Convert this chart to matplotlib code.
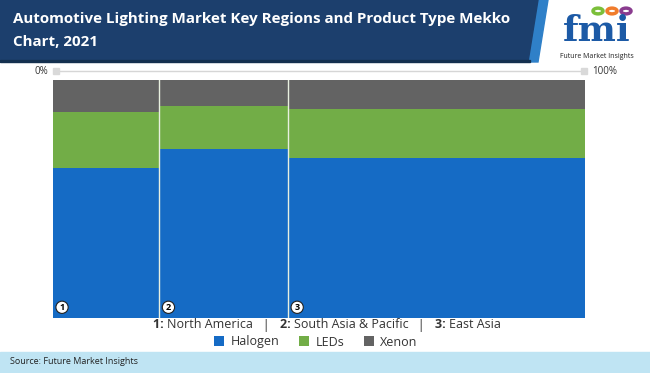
import numpy as np
import matplotlib.pyplot as plt
from matplotlib.patches import Polygon, Rectangle, Circle

regions = ['North America', 'South Asia & Pacific', 'East Asia']
region_share = [20.0, 24.2, 55.8]          # column widths, % of market
products = ['Halogen', 'LEDs', 'Xenon']
halogen = [63.1, 70.8, 67.4]
leds = [23.5, 18.1, 20.3]
xenon = [13.4, 11.1, 12.3]
colors = ['#156bc5', '#72ad47', '#636363']

plt.rcParams['font.family'] = ['Open Sans', 'DejaVu Sans']

W, H = 650, 373
fig = plt.figure(figsize=(W / 100, H / 100), dpi=100)

def fx(px):
    return px / W

def fy(py):
    return 1 - py / H

# header banner
fig.patches.append(Polygon([(fx(0), fy(0)), (fx(548), fy(0)), (fx(538), fy(62)), (fx(0), fy(62))],
                           closed=True, transform=fig.transFigure, color='#2f80c8', zorder=0))
fig.patches.append(Polygon([(fx(0), fy(0)), (fx(538), fy(0)), (fx(528), fy(62)), (fx(0), fy(62))],
                           closed=True, transform=fig.transFigure, color='#1c3f6d', zorder=1))
fig.patches.append(Rectangle((fx(0), fy(62)), fx(530), 2 / H, transform=fig.transFigure,
                             color='#14304f', zorder=2))
fig.text(fx(13), fy(19), 'Automotive Lighting Market Key Regions and Product Type Mekko',
         color='white', fontsize=10.9, fontweight='bold', va='center', ha='left')
fig.text(fx(13), fy(42), 'Chart, 2021', color='white', fontsize=10.9, fontweight='bold',
         va='center', ha='left')

# logo
fig.text(fx(597), fy(31), 'fmi', color='#1c5aa6', fontsize=26, fontweight='bold',
         ha='center', va='center', family=['DejaVu Serif'])
fig.text(fx(597), fy(56), 'Future Market Insights', color='#222222', fontsize=5,
         ha='center', va='center')
for cx, c in zip([598, 612, 626], ['#7bbf3a', '#f07c2c', '#8a3c8f']):
    fig.patches.append(Circle((fx(cx), fy(11)), 5 / W, transform=fig.transFigure,
                              facecolor='white', edgecolor=c, lw=2.5, zorder=3))

# footer
fig.patches.append(Rectangle((0, 0), 1, 21 / H, transform=fig.transFigure,
                             color='#bfe4f3', zorder=0))
fig.text(fx(10), fy(362), 'Source: Future Market Insights', fontsize=6.5,
         color='#222222', va='center', ha='left')

# top percentage scale
fig.add_artist(plt.Line2D([fx(56), fx(585)], [fy(71), fy(71)], color='#d6d6d6', lw=1))
for px in [56, 584]:
    fig.patches.append(Rectangle((fx(px - 3), fy(74)), 6 / W, 6 / H, transform=fig.transFigure,
                                 color='#d9d9d9', zorder=3))
fig.text(fx(48), fy(71), '0%', fontsize=7, color='#333333', ha='right', va='center')
fig.text(fx(592), fy(71), '100%', fontsize=7, color='#333333', ha='left', va='center')

# mekko
ax = fig.add_axes([fx(53), fy(318), fx(585) - fx(53), fy(80) - fy(318)])
widths = np.array(region_share)
lefts = np.concatenate([[0], np.cumsum(widths)[:-1]])
bottom = np.zeros(len(regions))
for vals, c, name in zip([halogen, leds, xenon], colors, products):
    ax.bar(lefts, vals, width=widths, bottom=bottom, align='edge', color=c,
           edgecolor='none', label=name)
    bottom += np.array(vals)
for x in lefts[1:]:
    ax.axvline(x, color='#e8f0e0', lw=1)
for i, x in enumerate(lefts):
    ax.text(x + 1.7, 4.5, str(i + 1), fontsize=6.5, fontweight='bold', ha='center', va='center',
            bbox=dict(boxstyle='circle,pad=0.18', fc='white', ec='#222222', lw=0.8))
ax.set_xlim(0, 100)
ax.set_ylim(0, 100)
ax.axis('off')

# region key with bold numbers, laid out piece by piece and centred
pieces = []
for i, r in enumerate(regions):
    if i:
        pieces.append(('   |   ', 'normal'))
    pieces.append((f'{i + 1}: ', 'bold'))
    pieces.append((r, 'normal'))
renderer = fig.canvas.get_renderer()
texts = [fig.text(0, fy(325), s, fontsize=9, fontweight=w, color='#333333', va='center', ha='left')
         for s, w in pieces]
widths_px = [t.get_window_extent(renderer).width for t in texts]
x = 327 - sum(widths_px) / 2
for t, wpx in zip(texts, widths_px):
    t.set_x(fx(x))
    x += wpx

leg = fig.legend(handles=ax.patches[::3], labels=products, loc='center',
                 bbox_to_anchor=(fx(316), fy(342)), ncol=3, frameon=False,
                 fontsize=9, handlelength=0.8, handleheight=0.8, columnspacing=1.6,
                 handletextpad=0.5)
for t in leg.get_texts():
    t.set_color('#333333')

fig.savefig('out.png', dpi=100)
